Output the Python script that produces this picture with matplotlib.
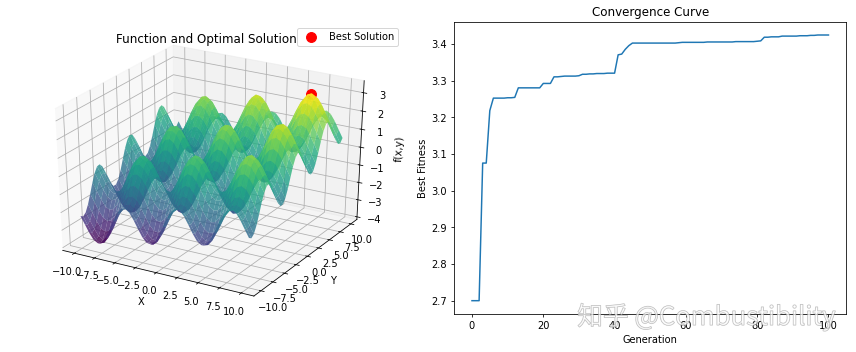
import numpy as np
import matplotlib
matplotlib.use("Agg")
import matplotlib.pyplot as plt
import matplotlib.patheffects as pe

grid_x = np.arange(-10, 10.5, 0.5)
grid_y = np.arange(-10, 10.5, 0.5)
profile_x = [-0.46, -0.88, -1.31, -1.65, -1.79, -1.69, -1.36, -0.87, -0.32, 0.16,
             0.46, 0.53, 0.36, 0.00, -0.44, -0.85, -1.11, -1.15, -0.94, -0.53,
             0.00,
             0.53, 0.94, 1.15, 1.11, 0.85, 0.44, 0.00, -0.36, -0.53, -0.46,
             -0.16, 0.32, 0.87, 1.36, 1.69, 1.79, 1.65, 1.31, 0.88, 0.46]
profile_y = [-1.84, -1.95, -1.81, -1.45, -0.95, -0.40, 0.05, 0.33, 0.36, 0.16,
             -0.22, -0.66, -1.05, -1.29, -1.29, -1.05, -0.62, -0.08, 0.44, 0.83,
             1.00,
             0.93, 0.64, 0.22, -0.22, -0.55, -0.69, -0.59, -0.25, 0.24, 0.78,
             1.26, 1.56, 1.63, 1.45, 1.10, 0.65, 0.25, -0.01, -0.05, 0.16]
best_point = (7.95, 6.38, 3.42)

generations = list(range(101))
best_fitness = [2.700, 2.700, 2.700, 3.075, 3.075, 3.218, 3.252, 3.252, 3.252, 3.252,
                3.253, 3.253, 3.254, 3.280, 3.280, 3.280, 3.280, 3.280, 3.280, 3.280,
                3.292, 3.292, 3.292, 3.310, 3.310, 3.311, 3.312, 3.312, 3.312, 3.312,
                3.313, 3.317, 3.317, 3.318, 3.318, 3.319, 3.319, 3.319, 3.320, 3.320,
                3.320, 3.370, 3.372, 3.385, 3.395, 3.402, 3.402, 3.402, 3.402, 3.402,
                3.402, 3.402, 3.402, 3.402, 3.402, 3.402, 3.402, 3.402, 3.403, 3.404,
                3.404, 3.404, 3.404, 3.404, 3.404, 3.404, 3.405, 3.405, 3.405, 3.405,
                3.405, 3.405, 3.405, 3.405, 3.406, 3.406, 3.406, 3.406, 3.406, 3.406,
                3.407, 3.408, 3.418, 3.418, 3.419, 3.419, 3.419, 3.421, 3.421, 3.421,
                3.421, 3.421, 3.422, 3.422, 3.422, 3.423, 3.423, 3.424, 3.424, 3.424,
                3.424]


def main():
    fig = plt.figure(figsize=(856.3 / 71.3, 352.3 / 71.3), dpi=71.3)

    ax1 = fig.add_subplot(121, projection='3d')
    X, Y = np.meshgrid(grid_x, grid_y)
    Z = np.add.outer(np.array(profile_y), np.array(profile_x))
    ax1.plot_surface(X, Y, Z, cmap='viridis', alpha=0.8, rstride=1, cstride=1, linewidth=0)
    ax1.scatter(*best_point, color='red', s=100, label='Best Solution', depthshade=False, zorder=10)
    ax1.set_zlim(-4.15, 3.65)
    ax1.set_title('Function and Optimal Solution', x=0.5, y=0.987)
    ax1.set_xlabel('X')
    ax1.set_ylabel('Y')
    ax1.set_zlabel('f(x,y)')
    ax1.legend(loc='upper right', bbox_to_anchor=(403 / 856, 1 - 23 / 352), bbox_transform=fig.transFigure)
    # stretch the 3d box over the whole rectangle
    ax1.set_position([2.5 / 856, 1 - 320 / 352, 408 / 856, 299 / 352])
    ax1.apply_aspect = lambda position=None: None
    ax1.set_box_aspect((1, 1, 1), zoom=0.909)

    ax2 = fig.add_subplot(122)
    ax2.plot(generations, best_fitness)
    ax2.set_title('Convergence Curve')
    ax2.set_xlabel('Generation')
    ax2.set_ylabel('Best Fitness')
    ax2.set_position([454 / 856, 1 - 314 / 352, 392 / 856, 292 / 352])

    fig.text(577 / 856, 1 - 325 / 352, '知乎 @Combustibility', fontsize=26, color=(1, 1, 1, 0.5),
             family=['Noto Sans CJK SC', 'DejaVu Sans'],
             path_effects=[pe.withStroke(linewidth=1, foreground=(0.55, 0.55, 0.55, 0.6))])

    fig.savefig('out.png')
    plt.close(fig)


if __name__ == "__main__":
    main()
